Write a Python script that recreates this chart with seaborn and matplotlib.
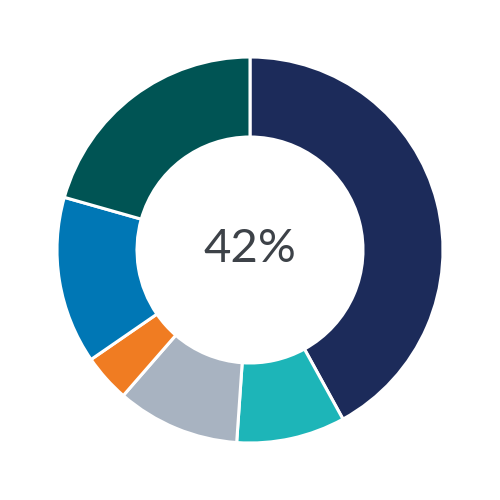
import matplotlib
matplotlib.use('Agg')
import matplotlib.pyplot as plt
import seaborn as sns

# --- data (clockwise from 12 o'clock) ---
segments = ['Navy', 'Teal', 'Gray', 'Orange', 'Blue', 'Green']
shares = [42, 9.1, 10.3, 4, 14, 20.6]
seg_colors = ['#1C2B5A', '#1DB5B8', '#A8B3C1', '#F07C22', '#0077B5', '#005454']
center_label = '42%'

sns.set_theme(style="white")
plt.rcParams['font.family'] = ['Lato', 'DejaVu Sans']

fig = plt.figure(figsize=(5, 5), dpi=100)
ax = fig.add_axes([0, 0, 1, 1])

palette = sns.color_palette(seg_colors)
ax.pie(
    shares,
    colors=palette,
    startangle=90,
    counterclock=False,
    radius=0.965,
    wedgeprops=dict(width=0.4, edgecolor='white', linewidth=2.2),
)
ax.text(0, 0.005, center_label, ha='center', va='center',
        fontsize=34, color='#3d4248')

ax.set_xlim(-1.25, 1.25)
ax.set_ylim(-1.25, 1.25)
ax.set_aspect('equal')
ax.axis('off')

fig.savefig('out.png', dpi=100, facecolor='white')
